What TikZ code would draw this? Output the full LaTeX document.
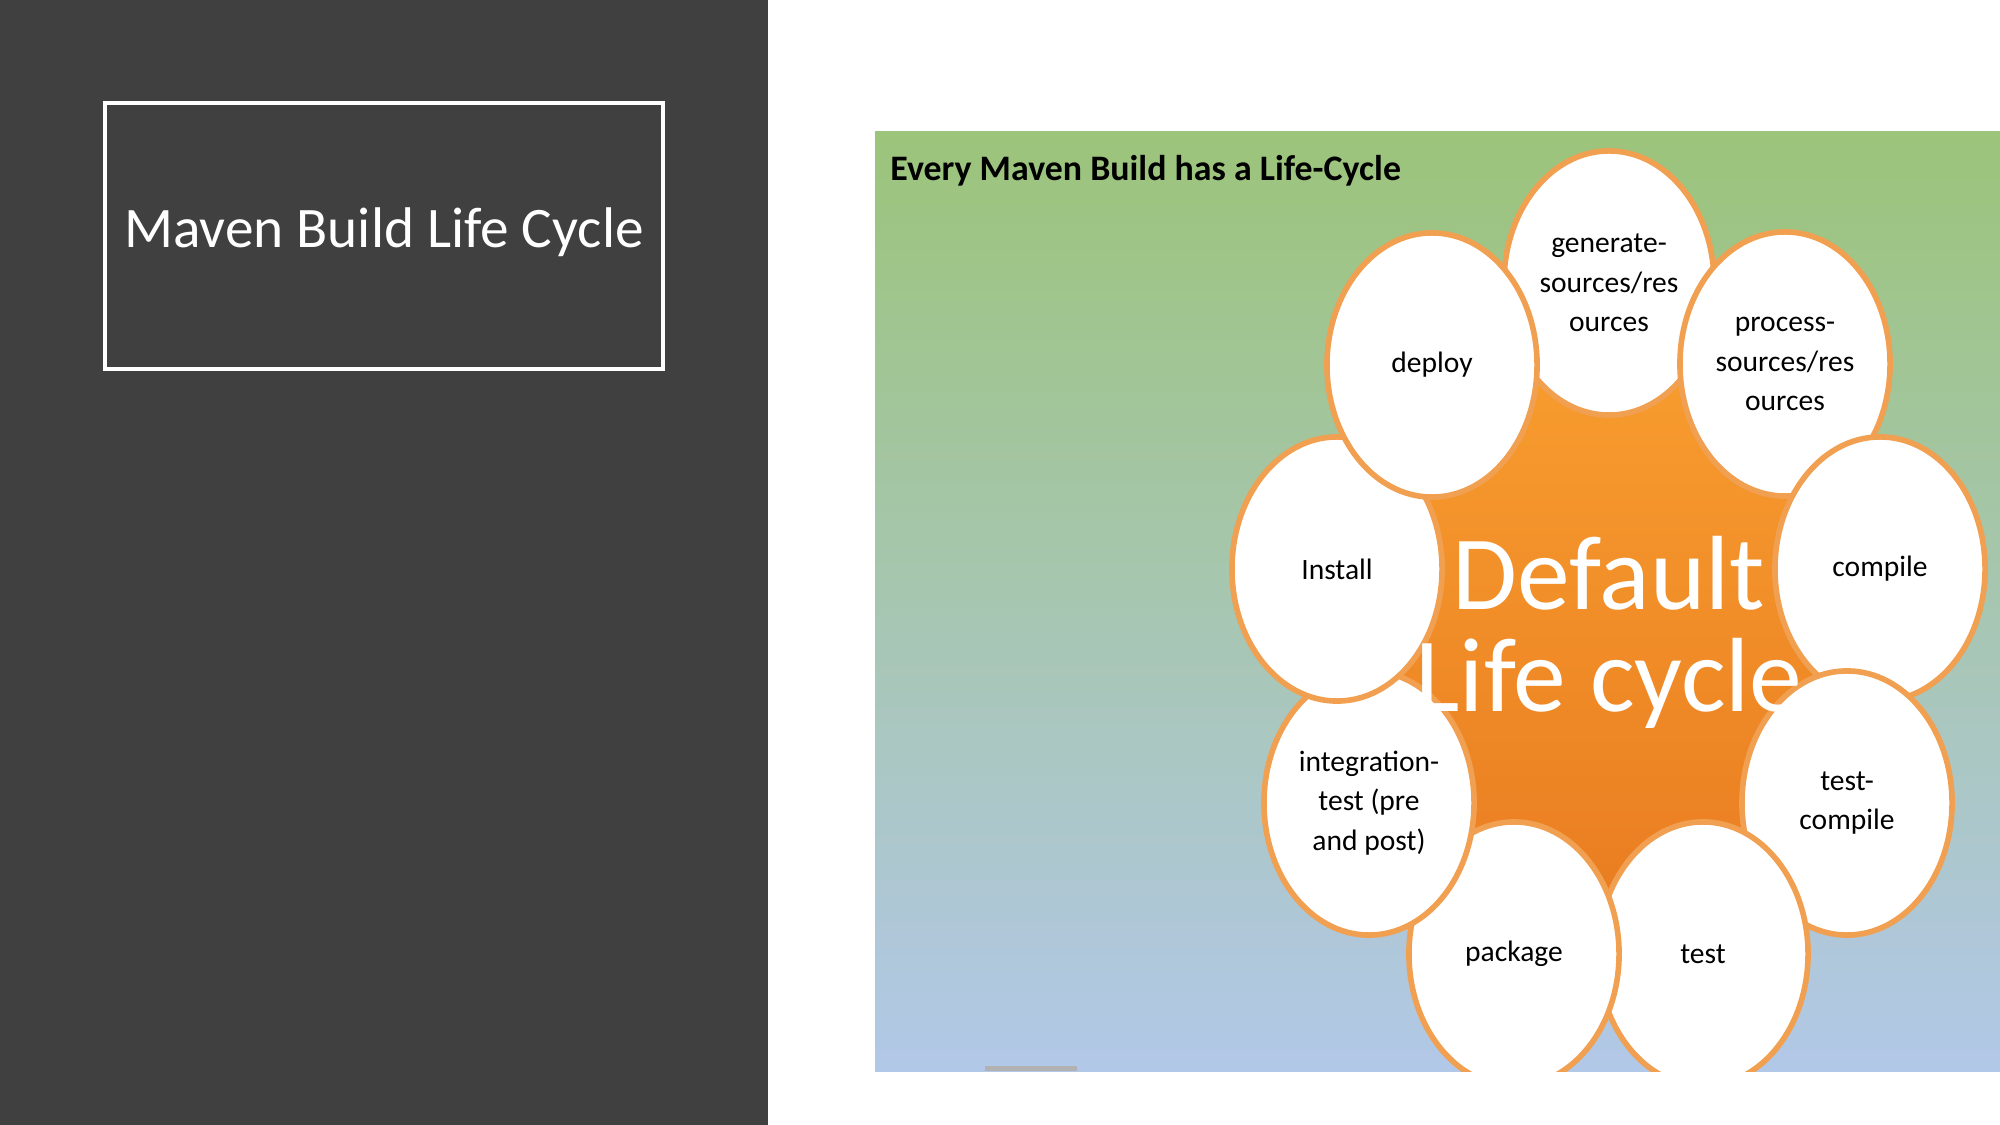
\documentclass[tikz,border=0pt]{standalone}
\usepackage{fontspec}
\setmainfont{Carlito}
\usetikzlibrary{shapes.geometric}
\definecolor{bgtop}{HTML}{9CC47A}
\definecolor{bgmid}{HTML}{A9C8B0}
\definecolor{bgbot}{HTML}{B2C8E8}
\definecolor{ringc}{HTML}{F0A050}
\definecolor{orA}{HTML}{F9A030}
\definecolor{orB}{HTML}{E87A20}
\begin{document}
\begin{tikzpicture}[x=0.01cm,y=-0.01cm,
  phase/.style={ellipse,draw=ringc,line width=1.6pt,fill=white,minimum width=2.1cm,minimum height=2.64cm,inner sep=0pt},
  lbl/.style={align=center,font=\fontsize{8.4}{11.2}\selectfont,text=black}]
\useasboundingbox (0,0) rectangle (2000,1125);
\fill[white] (0,0) rectangle (2000,1125);
\fill[black!75] (0,0) rectangle (768,1125);
\node[draw=white,line width=1.2pt,minimum width=5.58cm,minimum height=2.66cm,inner sep=0pt] (tb) at (384,236) {};
\node[text=white,font=\fontsize{16.3}{18}\selectfont] (tt) at (384,232) {Maven Build Life Cycle};
\begin{scope}
\clip (875,132) rectangle (2000,1071);
\shade[top color=bgtop, middle color=bgmid, bottom color=bgbot] (875,132) rectangle (2000,1071);
\shade[top color=orA,bottom color=orB] (1609,629) ellipse [x radius=2.4cm, y radius=3.3cm];
\node[phase] (gen) at (1609,283) {};
\node[phase] (proc) at (1785,364) {};
\node[phase] (comp) at (1880,569) {};
\node[phase] (tcomp) at (1847,803) {};
\node[phase] (test) at (1703,954) {};
\node[phase] (pack) at (1514,954) {};
\node[phase] (integ) at (1369,803) {};
\node[phase] (inst) at (1337,569) {};
\node[phase] (depl) at (1432,365) {};
\fill[gray!60] (985,1066) rectangle (1077,1071);
\end{scope}
\node[anchor=west,font=\bfseries\fontsize{10.2}{12}\selectfont] (title) at (878,171) {Every Maven Build has a Life-Cycle};
\node[lbl] at (gen) {generate-\\sources/res\\ources};
\node[lbl] at (proc) {process-\\sources/res\\ources};
\node[lbl] at (comp) {compile};
\node[lbl] at (tcomp) {test-\\compile};
\node[lbl] at (test) {test};
\node[lbl] at (pack) {package};
\node[lbl] at (integ) {integration-\\test (pre\\and post)};
\node[lbl] at (inst) {Install};
\node[lbl] at (depl) {deploy};
\node[align=center,text=white,font=\fontsize{30}{29}\selectfont] (ctr) at (1609,632) {Default\\Life cycle};
\end{tikzpicture}
\end{document}
